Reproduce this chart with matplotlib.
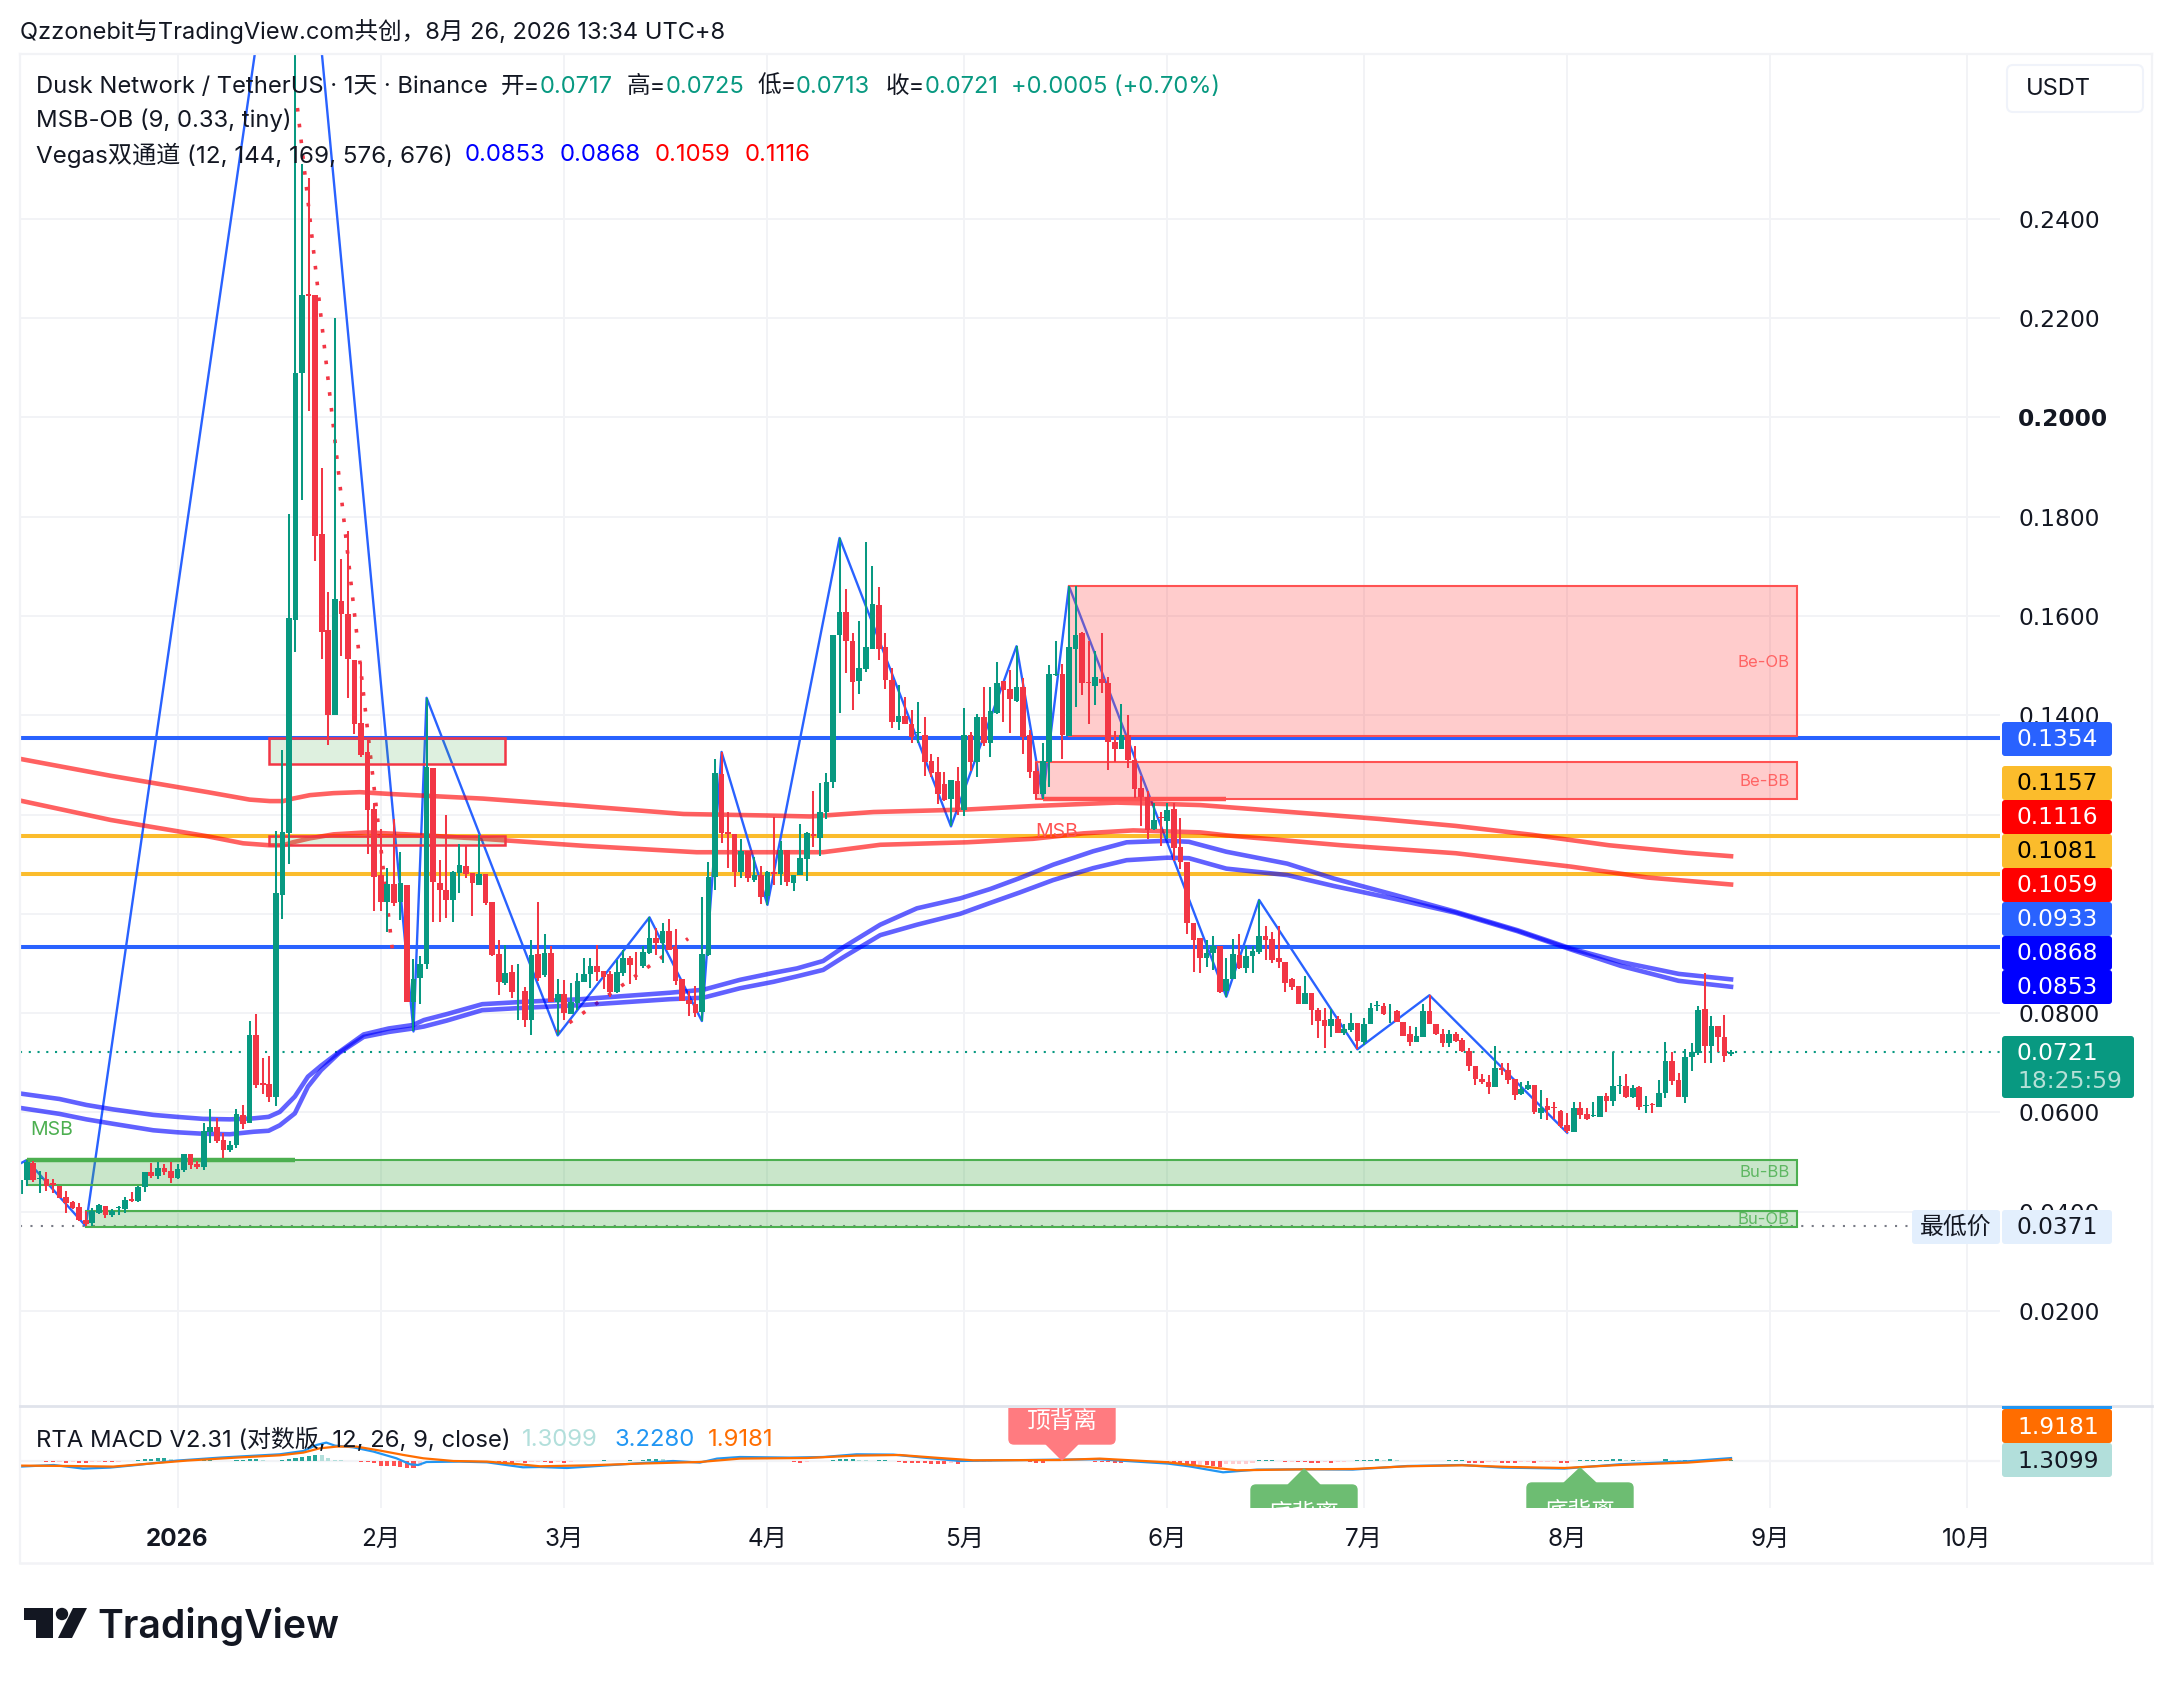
import matplotlib
matplotlib.use("Agg")
import matplotlib.pyplot as plt
import numpy as np
from matplotlib.patches import Rectangle, FancyBboxPatch, Polygon, Circle
from matplotlib.ticker import FixedLocator

plt.rcParams['font.family'] = ['Inter', 'Noto Sans CJK SC', 'DejaVu Sans']
NUM_FONT = ['DejaVu Sans', 'Noto Sans CJK SC']

W, H = 2172, 1684
UP, DOWN = '#089981', '#f23645'
INK = '#131722'
GRID = '#f2f3f6'

# ---------- data: daily candles, first candle is 24 days before 1 Jan 2026 ----------
first_day = -24
opens = [
    .0436,.0464,.0499,.0465,.0466,.0458,.0452,.0429,.0420,.0409,
    .0383,.0378,.0397,.0411,.0393,.0407,.0405,.0426,.0421,.0450,
    .0480,.0472,.0489,.0482,.0468,.0484,.0516,.0497,.0491,.0561,
    .0570,.0544,.0524,.0534,.0595,.0579,.0756,.0659,.0657,.0632,
    .1037,.1162,.1591,.2089,.2248,.2246,.1764,.1572,.1401,.1631,
    .1603,.1512,.1385,.1325,.1212,.1079,.1023,.1061,.1024,.1058,
    .0822,.0870,.0898,.1293,.1063,.1047,.1027,.1082,.1097,.1083,
    .1059,.1081,.1023,.0919,.0860,.0883,.0846,.0845,.0786,.0919,
    .0876,.0922,.0822,.0839,.0799,.0820,.0863,.0878,.0894,.0885,
    .0878,.0842,.0880,.0911,.0899,.0894,.0921,.0951,.0942,.0965,
    .0929,.0868,.0827,.0819,.0802,.0917,.1075,.1282,.1164,.1160,
    .1085,.1126,.1068,.1078,.1036,.1084,.1081,.1129,.1063,.1078,
    .1111,.1160,.1152,.1205,.1266,.1561,.1608,.1550,.1468,.1494,
    .1534,.1622,.1538,.1471,.1387,.1399,.1383,.1365,.1361,.1308,
    .1286,.1262,.1232,.1268,.1209,.1360,.1306,.1397,.1345,.1404,
    .1469,.1453,.1429,.1457,.1361,.1288,.1241,.1306,.1480,.1482,
    .1358,.1534,.1565,.1466,.1458,.1473,.1465,.1347,.1332,.1361,
    .1309,.1253,.1236,.1170,.1194,.1186,.1212,.1134,.1104,.0981,
    .0952,.0911,.0922,.0935,.0845,.0868,.0917,.0891,.0915,.0924,
    .0955,.0950,.0910,.0902,.0868,.0854,.0818,.0840,.0807,.0787,
    .0774,.0789,.0760,.0766,.0781,.0742,.0778,.0814,.0815,.0806,
    .0805,.0783,.0757,.0742,.0751,.0804,.0779,.0757,.0739,.0757,
    .0746,.0724,.0694,.0668,.0662,.0652,.0689,.0685,.0668,.0637,
    .0647,.0655,.0599,.0613,.0611,.0603,.0574,.0561,.0609,.0597,
    .0592,.0590,.0633,.0623,.0653,.0653,.0631,.0652,.0613,.0617,
    .0611,.0640,.0703,.0665,.0631,.0711,.0719,.0809,.0734,.0775,
    .0751,.0717]
closes = [
    .0464,.0501,.0464,.0467,.0452,.0454,.0427,.0417,.0407,.0383,
    .0375,.0402,.0413,.0393,.0402,.0409,.0423,.0421,.0450,.0480,
    .0472,.0489,.0480,.0468,.0485,.0516,.0495,.0491,.0562,.0570,
    .0543,.0524,.0534,.0597,.0577,.0756,.0655,.0656,.0632,.1041,
    .1164,.1595,.2089,.2247,.2245,.1760,.1568,.1401,.1635,.1603,
    .1513,.1383,.1320,.1209,.1075,.1024,.1061,.1022,.1063,.0822,
    .0869,.0899,.1295,.1065,.1047,.1027,.1085,.1099,.1081,.1063,
    .1081,.1022,.0917,.0863,.0881,.0842,.0847,.0786,.0917,.0870,
    .0921,.0823,.0839,.0800,.0822,.0865,.0879,.0894,.0883,.0873,
    .0842,.0883,.0911,.0896,.0898,.0924,.0952,.0942,.0965,.0928,
    .0865,.0825,.0819,.0801,.0919,.1075,.1284,.1162,.1160,.1085,
    .1126,.1072,.1079,.1034,.1085,.1081,.1129,.1065,.1078,.1113,
    .1162,.1156,.1205,.1265,.1562,.1608,.1550,.1466,.1496,.1538,
    .1623,.1534,.1471,.1387,.1398,.1383,.1356,.1367,.1306,.1284,
    .1241,.1230,.1270,.1209,.1361,.1306,.1397,.1345,.1409,.1465,
    .1450,.1432,.1457,.1356,.1286,.1241,.1308,.1482,.1482,.1360,
    .1538,.1562,.1464,.1464,.1476,.1465,.1347,.1331,.1361,.1309,
    .1252,.1235,.1169,.1189,.1192,.1210,.1133,.1104,.0981,.0947,
    .0911,.0922,.0935,.0842,.0868,.0919,.0890,.0915,.0926,.0955,
    .0948,.0907,.0902,.0861,.0852,.0819,.0840,.0806,.0785,.0774,
    .0789,.0760,.0767,.0781,.0744,.0778,.0811,.0816,.0799,.0807,
    .0783,.0754,.0742,.0754,.0804,.0779,.0757,.0739,.0757,.0744,
    .0724,.0694,.0667,.0662,.0652,.0689,.0685,.0665,.0635,.0648,
    .0655,.0600,.0609,.0605,.0609,.0572,.0563,.0609,.0595,.0586,
    .0594,.0633,.0623,.0654,.0655,.0631,.0649,.0611,.0614,.0615,
    .0640,.0703,.0663,.0631,.0711,.0721,.0807,.0734,.0775,.0751,
    .0714,.0721]
highs = [
    .0467,.0504,.0502,.0481,.0479,.0466,.0452,.0442,.0421,.0417,
    .0402,.0407,.0415,.0412,.0405,.0411,.0429,.0439,.0452,.0480,
    .0499,.0501,.0497,.0500,.0497,.0516,.0516,.0503,.0578,.0607,
    .0589,.0558,.0543,.0606,.0615,.0784,.0799,.0709,.0713,.1167,
    .1329,.1806,.3300,.2510,.2481,.2246,.1897,.1649,.2199,.1714,
    .1770,.1512,.1507,.1351,.1223,.1171,.1093,.1191,.1124,.1058,
    .0908,.0914,.1435,.1293,.1109,.1200,.1086,.1140,.1139,.1083,
    .1158,.1081,.1023,.0948,.0937,.0896,.0899,.0853,.0948,.1024,
    .0960,.0935,.0869,.0867,.0860,.0881,.0910,.0910,.0937,.0885,
    .0885,.0906,.0927,.0914,.0923,.0935,.0993,.0971,.0982,.0989,
    .0970,.0868,.0845,.0855,.1034,.1104,.1312,.1326,.1205,.1160,
    .1150,.1126,.1115,.1097,.1086,.1194,.1147,.1129,.1078,.1180,
    .1165,.1248,.1264,.1284,.1562,.1757,.1655,.1565,.1590,.1748,
    .1701,.1658,.1565,.1496,.1460,.1437,.1410,.1426,.1397,.1322,
    .1315,.1286,.1270,.1295,.1414,.1367,.1403,.1457,.1457,.1507,
    .1469,.1491,.1539,.1475,.1370,.1306,.1345,.1502,.1550,.1503,
    .1660,.1660,.1567,.1550,.1529,.1565,.1477,.1368,.1423,.1401,
    .1338,.1277,.1248,.1223,.1205,.1224,.1223,.1192,.1104,.0981,
    .0952,.0948,.0955,.0935,.0911,.0950,.0960,.0936,.0936,.1028,
    .0975,.0964,.0975,.0902,.0871,.0854,.0875,.0840,.0811,.0811,
    .0809,.0794,.0778,.0801,.0781,.0791,.0821,.0824,.0821,.0818,
    .0806,.0783,.0774,.0771,.0819,.0836,.0779,.0767,.0766,.0762,
    .0749,.0729,.0694,.0677,.0675,.0734,.0700,.0699,.0668,.0662,
    .0663,.0655,.0645,.0628,.0621,.0605,.0598,.0621,.0621,.0608,
    .0621,.0633,.0640,.0721,.0673,.0677,.0655,.0653,.0633,.0618,
    .0666,.0741,.0722,.0680,.0727,.0739,.0814,.0881,.0794,.0775,
    .0796,.0725]
lows = [
    .0434,.0452,.0459,.0438,.0442,.0437,.0427,.0398,.0405,.0382,
    .0371,.0372,.0395,.0387,.0390,.0393,.0397,.0420,.0419,.0440,
    .0468,.0466,.0474,.0458,.0466,.0479,.0486,.0485,.0483,.0538,
    .0538,.0509,.0521,.0528,.0566,.0579,.0650,.0638,.0621,.0613,
    .0989,.1101,.1527,.1833,.2012,.1711,.1514,.1340,.1401,.1520,
    .1434,.1362,.1315,.1121,.1005,.1005,.0964,.1016,.0987,.0822,
    .0763,.0818,.0888,.0983,.0983,.0991,.0983,.1042,.1072,.0995,
    .1058,.1017,.0915,.0836,.0856,.0830,.0786,.0773,.0755,.0865,
    .0872,.0823,.0755,.0786,.0799,.0806,.0862,.0850,.0865,.0849,
    .0833,.0840,.0874,.0858,.0867,.0891,.0919,.0917,.0901,.0927,
    .0856,.0824,.0795,.0793,.0784,.0915,.1047,.1142,.1093,.1054,
    .1073,.1065,.1065,.1019,.1018,.1058,.1058,.1056,.1045,.1078,
    .1067,.1134,.1116,.1191,.1253,.1404,.1484,.1411,.1442,.1488,
    .1534,.1511,.1453,.1375,.1370,.1383,.1345,.1345,.1277,.1275,
    .1221,.1227,.1176,.1198,.1196,.1288,.1275,.1337,.1316,.1403,
    .1386,.1365,.1427,.1322,.1273,.1232,.1232,.1255,.1478,.1311,
    .1358,.1417,.1440,.1383,.1421,.1444,.1289,.1306,.1331,.1293,
    .1234,.1176,.1151,.1169,.1137,.1151,.1106,.1090,.0960,.0882,
    .0880,.0893,.0887,.0841,.0833,.0868,.0889,.0881,.0881,.0919,
    .0907,.0901,.0890,.0843,.0846,.0818,.0818,.0776,.0750,.0730,
    .0751,.0759,.0756,.0761,.0727,.0736,.0778,.0805,.0796,.0781,
    .0783,.0754,.0734,.0742,.0751,.0778,.0756,.0731,.0731,.0742,
    .0722,.0684,.0655,.0657,.0637,.0652,.0675,.0657,.0625,.0635,
    .0646,.0597,.0586,.0584,.0586,.0568,.0559,.0561,.0586,.0584,
    .0590,.0590,.0601,.0613,.0638,.0628,.0628,.0605,.0599,.0599,
    .0610,.0630,.0655,.0631,.0619,.0684,.0715,.0699,.0699,.0721,
    .0702,.0713]

# MSB zigzag
zig_days = [-24,-23,-14,18,36,38,58,72,80,83,90,101,118,128,132,136,160,165,180,191,212]
zig_prices = [.0497,.0504,.0371,.3300,.0763,.1435,.0755,.0993,.0784,.1326,.1018,.1757,.1176,.1539,.1232,.1660,.0833,.1028,.0727,.0836,.0559]

# MSB dotted rays
ray1_days, ray1_prices = [18.3, 32.8], [.2623, .0925]
ray2_days, ray2_prices = [57.8, 77.9], [.0762, .0950]

# Vegas channels
vegas_days = [-24,-18,-13.9,-9.8,-3.7,-.1,3.9,8,11.6,13.9,15.6,17.9,19.9,21.9,24.7,28.4,32.2,35.9,37.6,41.1,
              46.5,53.3,61.5,75.1,80.2,85.8,90.9,94.5,98.5,101.5,107.2,112.8,119.4,124,128.5,133.6,139.7,144.8,
              151,154.3,160,169.3,176.4,185.7,195,204.4,212.6,220.2,229,237]
ema144 = [.0638,.0627,.0615,.0606,.0595,.0591,.0587,.0586,.0588,.0591,.0601,.0632,.0672,.0694,.0722,.0757,.0769,.0776,.0786,.0798,
          .0818,.0823,.0828,.0841,.0847,.0867,.0881,.0890,.0905,.0932,.0978,.1011,.1031,.1050,.1072,.1099,.1126,.1144,
          .1147,.1145,.1125,.1101,.1071,.1038,.1004,.0967,.0930,.0903,.0879,.0868]
ema169 = [.0609,.0597,.0586,.0577,.0564,.0560,.0557,.0556,.0561,.0563,.0574,.0598,.0652,.0685,.0720,.0752,.0762,.0769,.0773,.0785,
          .0806,.0811,.0816,.0828,.0831,.0850,.0863,.0874,.0887,.0912,.0957,.0978,.1000,.1022,.1043,.1068,.1092,.1108,
          .1113,.1112,.1091,.1078,.1056,.1030,.1002,.0965,.0928,.0895,.0865,.0853]
ema576_days = [-24,-10.2,4.6,11,14.1,16.1,17.6,20.2,23.8,27.8,32.9,46.6,59.9,77.2,89.9,96.5,106.2,120.4,130.5,143.3,156,165.9,183.4,195,206.7,218.4,230.1,237]
ema576 = [.1312,.1278,.1245,.1230,.1227,.1227,.1232,.1239,.1243,.1245,.1241,.1232,.1219,.1201,.1198,.1196,.1205,.1210,.1217,.1224,.1219,.1209,.1191,.1177,.1159,.1138,.1123,.1116]
ema676_days = [-24,-10.2,4.6,10,14.1,16.1,17.6,20.2,23.8,28.9,35,46.6,61.9,79.2,89.9,98.5,107.2,120.4,130.5,138.2,145.8,156,160,177.6,195,212.6,224.3,237]
ema676 = [.1228,.1189,.1156,.1142,.1138,.1138,.1144,.1152,.1160,.1164,.1160,.1151,.1137,.1124,.1124,.1124,.1139,.1144,.1151,.1162,.1168,.1164,.1158,.1138,.1122,.1095,.1073,.1059]

# horizontal levels
blue_levels = [.1354, .0933]
yellow_levels = [.1157, .1081]
last_price, low_price = .0721, .0371

# MACD pane
macd_days = [-24,-18.9,-14.4,-10.3,-6.2,-.1,6.5,15.6,19.2,21.2,22.7,24,26.8,29.9,33.4,35.5,36.7,38,43,47.2,52.7,55.3,
             59.4,68,75.6,79.7,82.3,85.8,93.4,98.5,103.6,109.2,113.8,119.4,126.5,134.6,
             140.7,151.1,154.3,159.5,164.7,172,179.3,187.6,196,202.2,211.6,220,230.4,237]
macd_vals = [-5.3,-3.7,-7.3,-6.3,-3.7,.7,3.7,7,10.3,16.3,18.7,15.7,14,9.7,3,-3,-3.7,-.7,-.3,-1,-6,-5.7,
             -6.7,-3,.3,-1.3,2.7,4.3,3.7,4.3,7,6.7,3.7,.3,1,1.7,
             2,-2.3,-5,-11,-8.3,-8,-8.3,-4.7,-3.7,-6.3,-7.3,-3,0,3.228]
signal_days = [-24,-16.4,-9.8,-3.7,1.4,9,15.6,19.2,21.7,24.3,27.3,30.9,34.5,37.5,42.1,47.2,52.2,55.3,
               62.9,70.6,79.7,85.8,96,103.6,110.2,116.3,121.4,134.6,
               140.7,151.1,156.3,161.6,172,179.3,187.6,196,203.3,211.6,220,230.4,237]
signal_vals = [-4.3,-4.7,-5.3,-2,.7,3.7,6,8.7,13,14.7,14.7,10.7,6.3,3,.3,-.3,-3,-5,
               -4,-2.3,-.7,2.7,3.3,5.7,6.3,3.3,1,1.3,
               2.7,-1,-5,-9,-8,-7.7,-5,-4,-5.7,-6.7,-3.7,-1.3,1.918]
hist_vals = [
    .6,.5,.4,.4,-.8,-1,-1,-1.2,-1,-1.4,
    -1.5,-1,-.6,-.8,-1,-.5,.5,.6,1,2,
    2.5,3,3.5,2,1,.5,.5,.5,1,1.1,
    .8,.6,.5,1,1.5,2,2.5,1,.8,.6,
    1,2,3,4,5,6.5,6,3.5,1.5,1,
    .8,.5,-1,-1.1,-2,-4.5,-5,-5.1,-5.5,-6.5,
    -6.6,-5,-2,-1,-.8,-.6,-.5,-.4,-.5,-.4,
    -.3,-1,-1.2,-1.5,-1.6,-2,-1,-2,-1,-.9,
    -1,-2,-1,-1.5,-1,.7,.6,.7,.8,.9,
    .6,.7,.8,.9,.6,1.5,2,2.5,2,1,
    .6,-1,-2,-2.1,.7,.5,.4,.6,.5,.5,
    .5,.4,.4,.4,.4,.4,.4,.4,-1,-1.2,
    -.8,.6,.7,.8,.9,2,2.1,2.2,1.5,1,
    .8,.9,1,.6,-1,-1.5,-1.6,-1.7,-2,-2.5,
    -3,-3.1,-1.5,-2.5,-1,-.9,-.8,-.7,-.6,.8,
    .9,1,1.1,1.2,-1,-1.5,-1.6,.5,.8,.6,
    .5,.7,.5,.4,-.7,-1,-1.1,-1.2,-1.3,-1,
    -.8,-.6,-.5,-.6,-.7,-2,-2.5,-3,-3.5,-4,
    -3.5,-4,-5,-5.5,-3,-3,-2.5,-2.5,-2,1,
    1.1,1.2,.6,-.5,-.4,-1,-1.1,-1.2,-1.3,-1,
    -1.2,-.6,-.5,.8,.9,1,1.1,2,1.5,2.5,
    1,.7,.8,.5,.6,.4,.5,.4,1,1.1,
    1.2,-1.5,-1.6,-1.7,-1,-.8,-1.5,-1.6,-1.7,-1,
    -.7,-2,-1,-.8,-.7,-2,-2.1,.5,1,1.1,
    1.2,1.3,1.4,2,2.1,1.5,1.6,1,.8,.6,
    .5,2,1.5,1,1.5,1.6,1.7,1.5,1.6,1.4,
    1.2,1.31]

price_ticks = [.02,.04,.06,.08,.10,.12,.14,.16,.18,.20,.22,.24]
month_days = [0,31,59,90,120,151,181,212,243,273]
month_labels = ['2026','2月','3月','4月','5月','6月','7月','8月','9月','10月']

# ---------- layout ----------
def rect(l, t, r, b):
    return [l/W, 1-b/H, (r-l)/W, (b-t)/H]
day_from_px = lambda x: (x-177.5)/6.555
price_from_px = lambda y: .06+(1112.4-y)/4965

fig = plt.figure(figsize=(W/100, H/100), dpi=100, facecolor='white')
ax = fig.add_axes(rect(20, 55, 2000, 1406))
pane = fig.add_axes(rect(20, 1408, 2000, 1508))
over = fig.add_axes([0, 0, 1, 1], zorder=20)
over.set_xlim(0, W); over.set_ylim(H, 0); over.axis('off'); over.patch.set_alpha(0)

ax.set_xlim(day_from_px(20), day_from_px(2000))
ax.set_ylim(price_from_px(1406), price_from_px(55))
pane.set_xlim(ax.get_xlim())
pane.set_ylim(-46.7, 53.3)

for a in (ax, pane):
    for s in a.spines.values():
        s.set_visible(False)
    a.set_axisbelow(True)
    a.xaxis.set_major_locator(FixedLocator(month_days))
    a.grid(True, axis='x', color=GRID, lw=1.4)

ax.grid(True, axis='y', color=GRID, lw=1.4)
ax.set_yticks(price_ticks)
ax.set_yticklabels([f'{t:.4f}' for t in price_ticks], fontsize=16.8, color=INK, family=NUM_FONT)
ax.tick_params(axis='y', left=False, right=False, labelleft=False, labelright=True, pad=9.5)
ax.yaxis.get_major_ticks()[price_ticks.index(.20)].label2.set_fontweight('bold')
ax.tick_params(axis='x', bottom=False, labelbottom=False)

pane.set_yticks([])
pane.set_xticks(month_days)
pane.set_xticklabels(month_labels, fontsize=17.5, color=INK)
pane.get_xticklabels()[0].set_fontweight('bold')
pane.tick_params(axis='x', bottom=False, pad=11)

days = first_day + np.arange(len(opens))
o, h, l, c = map(np.array, (opens, highs, lows, closes))

# indicators below the candles
for lv in blue_levels:
    ax.axhline(lv, color='#2962ff', lw=2.9, zorder=2)
for lv in yellow_levels:
    ax.axhline(lv, color='#fbbc2c', lw=2.9, zorder=2)
ax.axhline(last_price, color=UP, lw=1.5, ls=(0, (1, 3.2)), zorder=2)
ax.axhline(low_price, color='#787b86', lw=1.5, ls=(0, (1, 4)), zorder=2)
ax.plot(zig_days, zig_prices, color='#2962ff', lw=1.7, zorder=2.2)
for rd, rp in ((ray1_days, ray1_prices), (ray2_days, ray2_prices)):
    ax.plot(rd, rp, color=DOWN, lw=2.6, ls=(0, (1, 3.4)), zorder=2.2)
ax.plot(vegas_days, ema144, color='#0000ff', alpha=.62, lw=3.3, zorder=2.4)
ax.plot(vegas_days, ema169, color='#0000ff', alpha=.62, lw=3.3, zorder=2.4)
ax.plot(ema576_days, ema576, color='#ff0000', alpha=.62, lw=3.3, zorder=2.4)
ax.plot(ema676_days, ema676, color='#ff0000', alpha=.62, lw=3.3, zorder=2.4)

# order blocks
def block(d0, d1, p0, p1, face, edge, alpha, lw=1.5):
    ax.add_patch(Rectangle((d0, p0), d1-d0, p1-p0, facecolor=matplotlib.colors.to_rgba(face, alpha),
                           edgecolor=edge, lw=lw, zorder=2.6))
block(136, 247, .1358, .1660, '#ff5252', '#ff5252', .295)
block(131, 247, .1232, .1306, '#ff5252', '#ff5252', .295)
block(-23, 247, .0454, .0504, '#4caf50', '#4caf50', .30)
block(-14, 247, .0370, .0402, '#4caf50', '#4caf50', .30)
block(14, 50, .1301, .1355, '#4caf50', '#f23645', .18, lw=1.8)
block(14, 50, .1139, .1157, '#4caf50', '#f23645', .18, lw=1.8)
ax.plot([-23, 18], [.0504, .0504], color='#4caf50', lw=3.2, zorder=2.7, solid_capstyle='butt')
ax.plot([132, 160], [.1232, .1232], color='#ff5252', lw=3.2, zorder=2.7, solid_capstyle='butt')

for txt_, d, p, col_ in (('Be-OB', 246, .1507, '#ff5252'), ('Be-BB', 246, .1266, '#ff5252'),
                         ('Bu-BB', 246, .0478, '#4caf50'), ('Bu-OB', 246, .0384, '#4caf50')):
    ax.text(d, p, txt_, color=col_, ha='right', va='center', fontsize=12, alpha=.85, zorder=2.8)
ax.text(-22.5, .0564, 'MSB', color='#4caf50', fontsize=14, va='center', ha='left', zorder=2.8)
ax.text(130.8, .1165, 'MSB', color='#ff5252', fontsize=14, va='center', ha='left', zorder=2.8)

# candles
col = np.where(c >= o, UP, DOWN)
ax.vlines(days, l, h, colors=col, lw=1.45, zorder=4)
ax.bar(days, np.abs(c-o), bottom=np.minimum(o, c), width=.86, color=col, lw=0, zorder=4.2)

# MACD pane
pane.axhline(0, color=GRID, lw=1.6, zorder=1)
hv = np.array(hist_vals)
prev = np.r_[hv[0], hv[:-1]]
hcol = ['#26a69a' if (v > 0 and v > q) else '#b2dfdb' if v > 0 else
        '#ff5252' if v < q else '#ffcdd2' for v, q in zip(hv, prev)]
hd = first_day + np.arange(len(hv))
pane.bar(hd, hv, width=.62, color=hcol, lw=0, zorder=2)
pane.plot(macd_days, macd_vals, color='#2196f3', lw=1.6, zorder=3)
pane.plot(signal_days, signal_vals, color='#ff6d00', lw=1.6, zorder=3.1)

def callout(cx, top, bottom, tip, col_, label_):
    half = 53
    clip = Rectangle((20, 1408), 1980, 100, transform=over.transData)
    box = FancyBboxPatch((cx-half, top), 2*half, bottom-top, boxstyle='round,pad=0,rounding_size=5',
                         fc=col_, ec=col_, lw=1, zorder=5)
    tri = Polygon([(cx-16, tip[0]), (cx, tip[1]), (cx+16, tip[0])], fc=col_, ec=col_, lw=1, zorder=5)
    over.add_patch(box); over.add_patch(tri)
    box.set_clip_path(clip); tri.set_clip_path(clip)
    t = over.text(cx, top+29, label_, color='white', fontsize=17, ha='center', va='center', zorder=6)
    t.set_clip_path(clip)
    t.set_clip_on(True)

callout(1062, 1393, 1444, (1444, 1460), '#ff7b80', '顶背离')
callout(1304, 1485, 1540, (1485, 1469), '#6dbd72', '底背离')
callout(1580, 1483, 1540, (1483, 1468), '#6dbd72', '底背离')

# ---------- chrome ----------
for (x0, y0, x1, y1, c_, lw_) in ((20, 54, 2152, 54, GRID, 1.6), (20, 54, 20, 1563, GRID, 1.6), (2152, 54, 2152, 1563, GRID, 1.6),
                                  (20, 1563, 2152, 1563, GRID, 1.8), (20, 1406, 2152, 1406, '#e0e3eb', 2.0)):
    over.plot([x0, x1], [y0, y1], color=c_, lw=lw_, zorder=1)

def txt(x, y, s, color=INK, size=17, **kw):
    over.text(x, y, s, color=color, fontsize=size, ha=kw.pop('ha', 'left'), va='center', zorder=10, **kw)

txt(20, 32, 'Qzzonebit与TradingView.com共创，8月 26, 2026 13:34 UTC+8')
txt(36, 87, 'Dusk Network / TetherUS · 1天 · Binance', size=17.1)
for x, s, cc in ((501, '开=', INK), (540, '0.0717', UP), (627, '高=', INK), (666, '0.0725', UP),
                 (757, '低=', INK), (796, '0.0713', UP), (886, '收=', INK), (925, '0.0721', UP),
                 (1011, '+0.0005 (+0.70%)', UP)):
    txt(x, 87, s, cc)
txt(36, 120, 'MSB-OB (9, 0.33, tiny)', size=17.2)
txt(36, 155, 'Vegas双通道 (12, 144, 169, 576, 676)', size=17.4)
for x, s, cc in ((465, '0.0853', '#0000ff'), (560, '0.0868', '#0000ff'), (655, '0.1059', '#ff0000'), (745, '0.1116', '#ff0000')):
    txt(x, 155, s, cc, size=17.2)
txt(36, 1440, 'RTA MACD V2.31 (对数版, 12, 26, 9, close)', size=17.2)
for x, s, cc in ((522, '1.3099', '#b2dfdb'), (615, '3.2280', '#2196f3'), (708, '1.9181', '#ff6d00')):
    txt(x, 1440, s, cc, size=17.2)

def label(y, s, fc, tc='white', h=34):
    over.add_patch(FancyBboxPatch((2002, y-h/2), 110, h, boxstyle='round,pad=0,rounding_size=3', fc=fc, ec='none', zorder=8))
    txt(2017, y+1, s, tc, size=16.8, family=NUM_FONT)

label(739, '0.1354', '#2962ff')
label(783, '0.1157', '#fbbc2c', 'black')
label(817, '0.1116', '#ff0000')
label(851, '0.1081', '#fbbc2c', 'black')
label(885, '0.1059', '#ff0000')
label(919, '0.0933', '#2962ff')
label(953, '0.0868', '#0000ff')
label(987, '0.0853', '#0000ff')
over.add_patch(FancyBboxPatch((2002, 1036), 132, 62, boxstyle='round,pad=0,rounding_size=3', fc=UP, ec='none', zorder=8))
txt(2017, 1053, '0.0721', 'white', size=16.8, family=NUM_FONT)
txt(2017, 1081, '18:25:59', '#b5e0d7', size=16.8, family=NUM_FONT)
label(1227, '0.0371', '#e3effd', INK)
over.add_patch(FancyBboxPatch((1912, 1210), 88, 34, boxstyle='round,pad=0,rounding_size=3', fc='#e3effd', ec='none', zorder=8))
txt(1956, 1228, '最低价', INK, size=17.2, ha='center')

over.add_patch(Rectangle((2002, 1406), 110, 3, fc='#2196f3', ec='none', zorder=8))
label(1426, '1.9181', '#ff6d00')
label(1460, '1.3099', '#b2dfdb', INK)

over.add_patch(FancyBboxPatch((2007, 65), 136, 47, boxstyle='round,pad=0,rounding_size=6', fc='white', ec='#f0f3fa', lw=1.5, zorder=8))
txt(2026, 89, 'USDT', INK, size=17)

# logo
over.add_patch(Polygon([(24, 1608), (53, 1608), (53, 1638), (36, 1638), (36, 1620), (24, 1620)], fc=INK, ec='none'))
over.add_patch(Circle((62, 1614), 6.2, fc=INK, ec='none'))
over.add_patch(Polygon([(73, 1608), (87, 1608), (72, 1638), (58, 1638)], fc=INK, ec='none'))
txt(97, 1627, 'TradingView', INK, size=28.2, fontweight='semibold')

fig.savefig('out.png', dpi=100, facecolor='white')
